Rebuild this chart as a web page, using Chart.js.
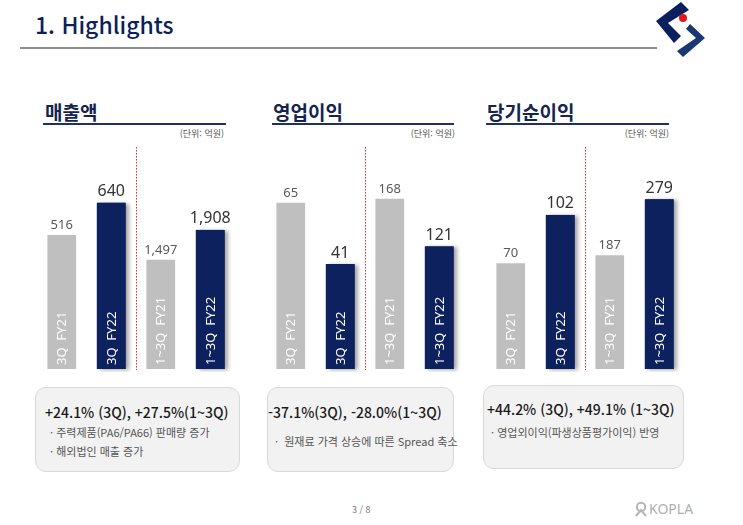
<!DOCTYPE html>
<html lang="ko">
<head>
<meta charset="utf-8">
<script src="https://cdn.jsdelivr.net/npm/chart.js@4/dist/chart.umd.min.js"></script>
<style>
  html, body { margin: 0; padding: 0; background: #fff; }
  body { width: 743px; height: 525px; position: relative; overflow: hidden;
         font-family: "Noto Sans CJK KR", "Noto Sans", sans-serif; }
  .abs { position: absolute; white-space: nowrap; line-height: 1; }
  .title { left: 35px; top: 13px; font-size: 23px; font-weight: 500; color: #0d1f5c; }
  .topline { left: 20px; top: 47px; width: 637px; height: 2px; background: #8c8c8c; }
  .ph { font-size: 19px; font-weight: bold; color: #14244f; top: 102px; }
  .pline { top: 123px; height: 2px; background: #1f2f68; }
  .unit { font-size: 9px; color: #555; top: 129px; text-align: right; }
  .box { position: absolute; background: #f2f2f2; border: 1px solid #d9d9d9; border-radius: 11px; box-sizing: border-box; }
  .bh { font-size: 14px; font-weight: 500; color: #1a1a1a; }
  .bl { font-size: 11px; color: #555; }
  canvas { position: absolute; }
</style>
</head>
<body>
<div class="abs title">1. Highlights</div>
<div class="abs topline"></div>

<svg class="abs" style="left:650px;top:0px" width="64" height="64" viewBox="650 0 64 64">
  <polygon points="681,2 689,10 668,23 681,36 674,43 656,21" fill="#0b1f5e"/>
  <circle cx="683" cy="18" r="4" fill="#e8141c"/>
  <polygon points="690,24 705,38 683,57 677,51 696,38 686,29" fill="#1c3670"/>
</svg>

<!-- panel 1 -->
<div class="abs ph" style="left:45px">매출액</div>
<div class="abs pline" style="left:43px;width:183px"></div>
<div class="abs unit" style="left:143px;width:81px">(단위: 억원)</div>
<canvas id="c1" width="198" height="232" style="left:37px;top:140px"></canvas>

<!-- panel 2 -->
<div class="abs ph" style="left:273px">영업이익</div>
<div class="abs pline" style="left:272px;width:182px"></div>
<div class="abs unit" style="left:374px;width:81px">(단위: 억원)</div>
<canvas id="c2" width="198" height="232" style="left:266px;top:140px"></canvas>

<!-- panel 3 -->
<div class="abs ph" style="left:487px">당기순이익</div>
<div class="abs pline" style="left:486px;width:183px"></div>
<div class="abs unit" style="left:588px;width:81px">(단위: 억원)</div>
<canvas id="c3" width="198" height="232" style="left:486px;top:140px"></canvas>

<!-- boxes -->
<div class="box" style="left:35px;top:387px;width:205px;height:85px"></div>
<div class="abs bh" style="left:45px;top:405px">+24.1% (3Q), +27.5%(1~3Q)</div>
<div class="abs bl" style="left:50px;top:427px">· 주력제품(PA6/PA66) 판매량 증가</div>
<div class="abs bl" style="left:50px;top:446px">· 해외법인 매출 증가</div>

<div class="box" style="left:267px;top:387px;width:187px;height:85px"></div>
<div class="abs bh" style="left:268px;top:405px">-37.1%(3Q), -28.0%(1~3Q)</div>
<div class="abs bl" style="left:275px;top:436px">· &nbsp;원재료 가격 상승에 따른 Spread 축소</div>

<div class="box" style="left:483px;top:385px;width:201px;height:84px"></div>
<div class="abs bh" style="left:487px;top:402px">+44.2% (3Q), +49.1% (1~3Q)</div>
<div class="abs bl" style="left:491px;top:427px">· 영업외이익(파생상품평가이익) 반영</div>

<div class="abs" style="left:352px;top:505px;font-size:9px;color:#777">3 / 8</div>
<svg class="abs" style="left:634px;top:501px" width="14" height="16" viewBox="0 0 14 16">
  <circle cx="7" cy="6" r="4.2" fill="none" stroke="#b5b5b5" stroke-width="2"/>
  <path d="M2 15 L7 9 L12 15" fill="none" stroke="#b5b5b5" stroke-width="2"/>
</svg>
<div class="abs" style="left:649px;top:502px;font-size:14px;color:#b0b0b0;font-family:'Noto Sans',sans-serif">KOPLA</div>

<script>
// 카테고리 / 값
const categories = ['3Q  FY21', '3Q  FY22', '1~3Q  FY21', '1~3Q  FY22'];
const salesValues = [516, 640, 1497, 1908];   // 매출액
const opValues = [65, 41, 168, 121];          // 영업이익
const netValues = [70, 102, 187, 279];        // 당기순이익

const GRAY = '#bfbfbf';
const NAVY = '#0c215e';
const barColors = [GRAY, NAVY, GRAY, NAVY];

// 바 위 숫자 + 바 안 세로 라벨 + 점선
const barTextPlugin = {
    id: 'barText',
    beforeDatasetsDraw(chart) {
        const ctx = chart.ctx;
        ctx.save();
        ctx.shadowColor = 'rgba(0,0,0,0.35)';
        ctx.shadowBlur = 4;
        ctx.shadowOffsetX = 3;
        ctx.shadowOffsetY = 1;
        ctx.fillStyle = NAVY;
        chart.data.datasets.forEach((ds, di) => {
            chart.getDatasetMeta(di).data.forEach((el, i) => {
                if (ds.data[i] == null || i % 2 === 0) return;
                const p = el.getProps(['x', 'y', 'base', 'width'], true);
                ctx.fillRect(p.x - p.width / 2, p.y, p.width, p.base - p.y);
            });
        });
        ctx.restore();
    },
    afterDatasetsDraw(chart) {
        const ctx = chart.ctx;
        const metas = [chart.getDatasetMeta(0), chart.getDatasetMeta(1)];
        ctx.save();
        chart.data.datasets.forEach((ds, di) => {
            metas[di].data.forEach((el, i) => {
                const v = ds.data[i];
                if (v == null) return;
                const p = el.getProps(['x', 'y', 'base'], true);
                const strong = i % 2 === 1;
                ctx.fillStyle = strong ? '#333' : '#595959';
                ctx.font = (strong ? '16px' : '13px') + ' "Noto Sans", sans-serif';
                ctx.textAlign = 'center';
                ctx.textBaseline = 'bottom';
                ctx.fillText(v.toLocaleString('en-US'), p.x, p.y - 3);

                ctx.save();
                ctx.translate(p.x + 1, p.base - 4);
                ctx.rotate(-Math.PI / 2);
                ctx.fillStyle = '#fff';
                ctx.font = '13px "Noto Sans", sans-serif';
                ctx.textAlign = 'left';
                ctx.textBaseline = 'middle';
                ctx.fillText(categories[i], 0, 0);
                ctx.restore();
            });
        });
        // 분기 / 누적 구분 점선
        const x = (metas[0].data[1].x + metas[1].data[2].x) / 2;
        ctx.strokeStyle = '#e8262a';
        ctx.lineWidth = 1;
        ctx.setLineDash([1.5, 1.5]);
        ctx.beginPath();
        ctx.moveTo(Math.round(x) + 0.5, 7);
        ctx.lineTo(Math.round(x) + 0.5, chart.chartArea.bottom + 1);
        ctx.stroke();
        ctx.restore();
    }
};

function makePanel(id, values, maxQ, maxC) {
    new Chart(document.getElementById(id), {
        type: 'bar',
        data: {
            labels: categories,
            datasets: [
                {
                    data: [values[0], values[1], null, null],
                    yAxisID: 'yQ',
                    backgroundColor: barColors,
                    grouped: false
                },
                {
                    data: [null, null, values[2], values[3]],
                    yAxisID: 'yC',
                    backgroundColor: barColors,
                    grouped: false
                }
            ]
        },
        options: {
            responsive: false,
            animation: false,
            events: [],
            layout: { padding: { top: 0, bottom: 3, left: 0, right: 0 } },
            barPercentage: 0.58,
            categoryPercentage: 1,
            plugins: { legend: { display: false }, tooltip: { enabled: false } },
            scales: {
                x: { display: false },
                yQ: { display: false, min: 0, max: maxQ },
                yC: { display: false, min: 0, max: maxC }
            }
        },
        plugins: [barTextPlugin]
    });
}

makePanel('c1', salesValues, 882, 3141);
makePanel('c2', opValues, 89.5, 226);
makePanel('c3', netValues, 151.6, 376.6);
</script>
</body>
</html>
